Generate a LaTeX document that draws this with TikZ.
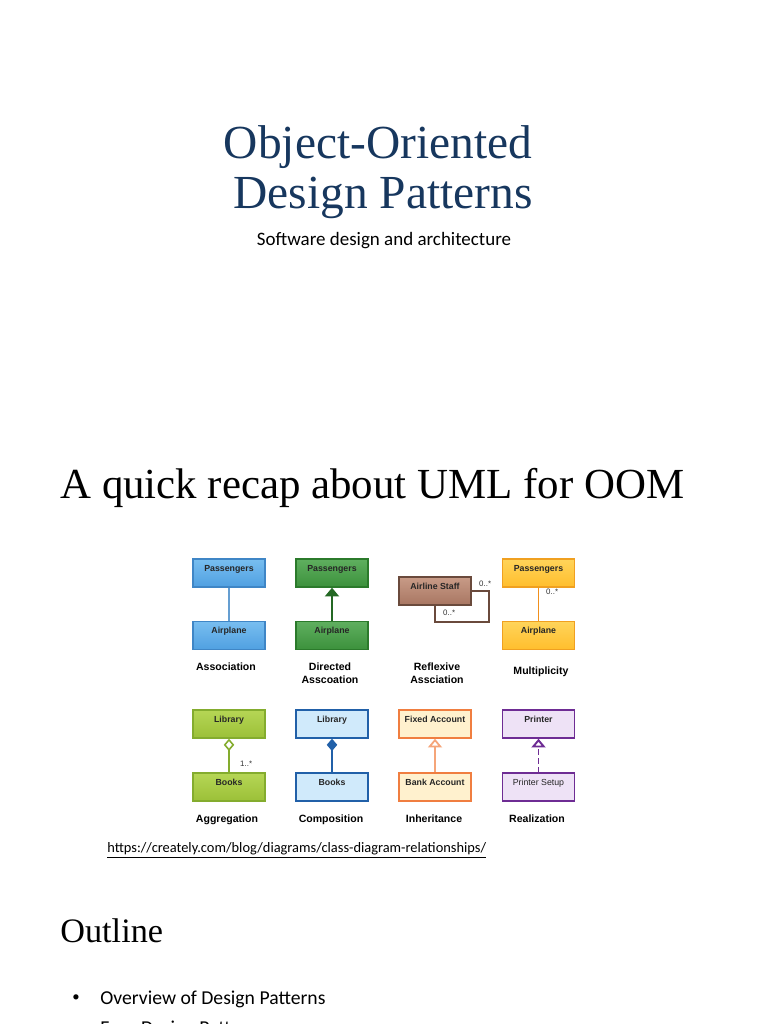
\documentclass[tikz,border=0pt]{standalone}
\usepackage{fontspec}
\setmainfont{Liberation Serif}
\newfontfamily\bodyfont{Carlito}
\newfontfamily\umlfont{Liberation Sans}
\usetikzlibrary{arrows.meta}

\definecolor{titleblue}{HTML}{17375E}
\definecolor{assocblue}{HTML}{3F86C6}
\definecolor{dirgreen}{HTML}{2B7A2B}
\definecolor{staffbrown}{HTML}{6A4A3C}
\definecolor{multorange}{HTML}{F0A020}
\definecolor{aggrgreen}{HTML}{84AC2E}
\definecolor{compblue}{HTML}{2160A8}
\definecolor{inhorange}{HTML}{F07E40}
\definecolor{realpurple}{HTML}{6E2C94}

\tikzset{
  umlbox/.style={draw, line width=0.8pt, minimum width=1.44cm, minimum height=0.56cm,
    inner sep=0pt, text height=3.5pt, text depth=5.5pt,
    font=\umlfont\bfseries\fontsize{5}{6}\selectfont, text=black!85},
  umllabel/.style={font=\umlfont\bfseries\fontsize{6}{7.4}\selectfont, align=center, anchor=north},
  multlabel/.style={font=\umlfont\fontsize{4.5}{5}\selectfont, text=black!80}
}

\begin{document}
\begin{tikzpicture}[x=0.02cm,y=-0.02cm]
  \useasboundingbox (0,0) rectangle (768,1024);
  \clip (0,0) rectangle (768,1024);

  % title slide
  \node[anchor=base, text=titleblue, font=\fontsize{27}{32}\selectfont] (title1) at (378,158) {Object-Oriented};
  \node[anchor=base, text=titleblue, font=\fontsize{27}{32}\selectfont] (title2) at (383,208) {Design Patterns};
  \node[anchor=base, font=\bodyfont\fontsize{10.8}{13}\selectfont] (subtitle) at (384,245) {Software design and architecture};

  % recap slide
  \node[anchor=base west, inner sep=0pt, font=\fontsize{24.4}{29}\selectfont] (recap) at (60,498) {A quick recap about UML for OOM};

  % association
  \node[umlbox, top color={rgb,255:red,120;green,190;blue,240}, bottom color={rgb,255:red,80;green,160;blue,225}, draw=assocblue] (passA) at (229,573) {Passengers};
  \node[umlbox, top color={rgb,255:red,120;green,190;blue,240}, bottom color={rgb,255:red,80;green,160;blue,225}, draw=assocblue] (airA) at (229,635.5) {Airplane};
  \draw[assocblue!80, line width=0.7pt] (passA) -- (airA);
  \node[umllabel] (labA) at (226,657) {Association};

  % directed association
  \node[umlbox, top color={rgb,255:red,95;green,175;blue,95}, bottom color={rgb,255:red,60;green,145;blue,60}, draw=dirgreen] (passD) at (332,573) {Passengers};
  \node[umlbox, top color={rgb,255:red,95;green,175;blue,95}, bottom color={rgb,255:red,60;green,145;blue,60}, draw=dirgreen] (airD) at (332,635.5) {Airplane};
  \draw[dirgreen!85!black, line width=1.3pt, -{Triangle[length=5pt,width=8pt]}] (airD) -- (passD);
  \node[umllabel] (labD) at (330,657) {Directed\\Asscoation};

  % reflexive association
  \node[umlbox, top color={rgb,255:red,200;green,155;blue,135}, bottom color={rgb,255:red,168;green,118;blue,98}, draw=staffbrown] (staff) at (435,591) {Airline Staff};
  \coordinate (loopR) at (489,622);
  \draw[staffbrown, line width=0.8pt] (staff.east) -| (loopR) -| (staff.south);
  \node[multlabel, anchor=west] (mStaff1) at (473,584) {0..*};
  \node[multlabel, anchor=west] (mStaff2) at (437,613) {0..*};
  \node[umllabel] (labR) at (437,657) {Reflexive\\Assciation};

  % multiplicity
  \node[umlbox, top color={rgb,255:red,255;green,212;blue,90}, bottom color={rgb,255:red,255;green,190;blue,45}, draw=multorange] (passM) at (538.5,573) {Passengers};
  \node[umlbox, top color={rgb,255:red,255;green,212;blue,90}, bottom color={rgb,255:red,255;green,190;blue,45}, draw=multorange] (airM) at (538.5,635.5) {Airplane};
  \draw[multorange!90!red, line width=1pt] (passM) -- (airM);
  \node[multlabel, anchor=west] (mMult) at (540,592) {0..*};
  \node[umllabel] (labM) at (541,661) {Multiplicity};

  % aggregation
  \node[umlbox, top color={rgb,255:red,182;green,214;blue,85}, bottom color={rgb,255:red,155;green,192;blue,56}, draw=aggrgreen] (libG) at (229,724) {Library};
  \node[umlbox, top color={rgb,255:red,182;green,214;blue,85}, bottom color={rgb,255:red,155;green,192;blue,56}, draw=aggrgreen] (booksG) at (229,787) {Books};
  \draw[aggrgreen, line width=0.9pt, -{Diamond[open,length=7pt,width=6pt]}] (booksG) -- (libG);
  \node[multlabel, anchor=west] (mAggr) at (234,764) {1..*};
  \node[umllabel] (labG) at (227,809) {Aggregation};

  % composition
  \node[umlbox, fill={rgb,255:red,208;green,234;blue,251}, draw=compblue] (libC) at (332,724) {Library};
  \node[umlbox, fill={rgb,255:red,208;green,234;blue,251}, draw=compblue] (booksC) at (332,787) {Books};
  \draw[compblue, line width=1pt, -{Diamond[length=7pt,width=6pt]}] (booksC) -- (libC);
  \node[umllabel] (labC) at (331,809) {Composition};

  % inheritance
  \node[umlbox, fill={rgb,255:red,255;green,241;blue,206}, draw=inhorange] (fixedI) at (435,724) {Fixed Account};
  \node[umlbox, fill={rgb,255:red,255;green,241;blue,206}, draw=inhorange] (bankI) at (435,787) {Bank Account};
  \draw[inhorange!70, line width=1pt, -{Triangle[open,length=5pt,width=8pt]}] (bankI) -- (fixedI);
  \node[umllabel] (labI) at (434,809) {Inheritance};

  % realization
  \node[umlbox, fill={rgb,255:red,238;green,226;blue,246}, draw=realpurple] (printR) at (538.5,724) {Printer};
  \node[umlbox, fill={rgb,255:red,238;green,226;blue,246}, draw=realpurple, font=\umlfont\fontsize{5}{6}\selectfont] (setupR) at (538.5,787) {Printer Setup};
  \draw[realpurple, line width=1.1pt, dash pattern=on 3pt off 2pt, -{Triangle[open,length=5pt,width=8pt]}] (setupR) -- (printR);
  \node[umllabel] (labZ) at (537,809) {Realization};

  % source link
  \node[anchor=base west, inner sep=0pt, font=\bodyfont\fontsize{8.2}{10}\selectfont] (link) at (107,852)
    {\underline{https://creately.com/blog/diagrams/class-diagram-relationships/}};

  % outline slide
  \node[anchor=base west, inner sep=0pt, font=\fontsize{19.5}{23}\selectfont] (outline) at (60,942) {Outline};
  \node[anchor=base west, inner sep=0pt, font=\bodyfont\fontsize{11.2}{13}\selectfont] (item1) at (72,1004)
    {\makebox[0.56cm][l]{\raisebox{0.15em}{\scalebox{0.75}{\textbullet}}}Overview of Design Patterns};
  \node[anchor=base west, inner sep=0pt, font=\bodyfont\fontsize{11.2}{13}\selectfont] (item2) at (72,1034)
    {\makebox[0.56cm][l]{\raisebox{0.15em}{\scalebox{0.75}{\textbullet}}}Four Design Patterns};
\end{tikzpicture}
\end{document}
